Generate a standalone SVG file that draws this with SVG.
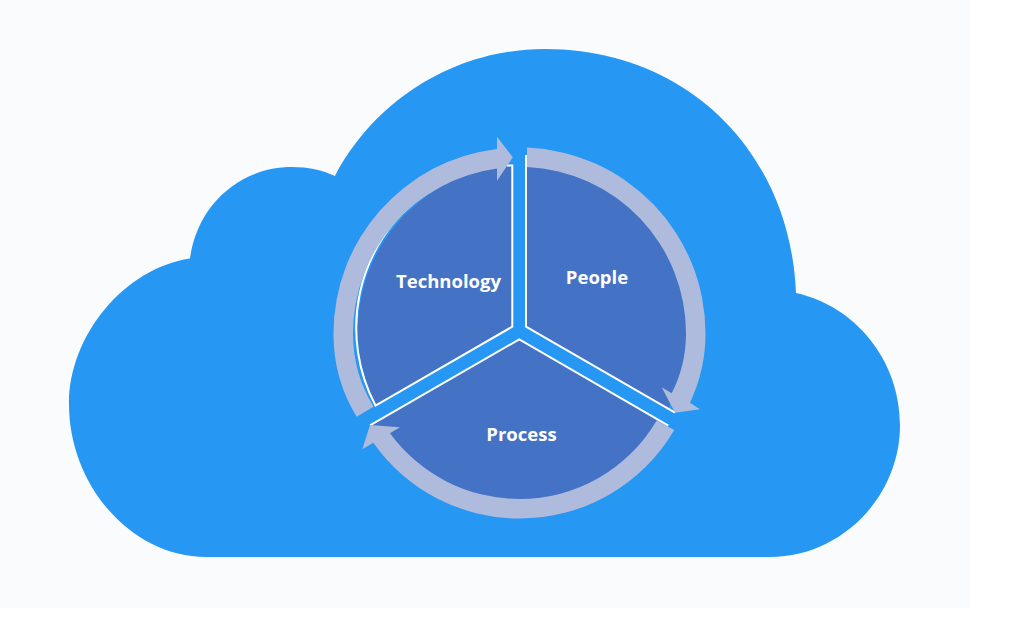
<svg xmlns="http://www.w3.org/2000/svg" width="1012" height="626" viewBox="0 0 1012 626">
<style>
.pie{fill:#4472c4}
.edge{fill:none;stroke:#fff;stroke-width:2}
.ring{fill:#aebbdd}
.lbl{font-family:"Open Sans","Noto Sans",sans-serif;font-weight:700;font-size:18.5px;fill:#fff;text-anchor:middle}
</style>
<rect width="1012" height="626" fill="#fff"/>
<rect width="970" height="608" fill="#f9fbfd"/>
<path id="cloud" fill="#2697f2" d="M206 557C133 557 69 487 69 404C69 335 125 268 190 258.500C197 205 240 167 292 167C308 167 322 170 335 176C375 100 455 49 545 49C685 49 790 150 796 293C855 306 900 360 900 425C900 498 840 557 770 557Z"/>
<g id="technology">
<path class="pie" d="M512.300 165V326.700L376 406A166 166 0 0 1 512.300 165Z"/>
<path class="edge" d="M507 165.500H512.300V326.700L375.500 405.500A166 166 0 0 1 420 197"/>
<text class="lbl" x="448.500" y="288">Technology</text>
</g>
<g id="people">
<path class="pie" d="M526.500 165V326.700L668 408.700A168 168 0 0 0 526.500 165Z"/>
<path class="edge" d="M526 155V326.700L675 412.700"/>
<text class="lbl" x="597" y="284">People</text>
</g>
<g id="process">
<path class="pie" d="M519.300 339.300L668.300 425.700A172 172 0 0 1 370.700 425Z"/>
<path class="edge" d="M370 425.300L519.300 339.300L668.300 425.700"/>
<text class="lbl" x="521.500" y="440.500">Process</text>
</g>
<g id="connectors">
<path class="ring" d="M527 147.600A186 186 0 0 1 705.500 333.500A162 162 0 0 1 690 402.700L700 409.300L675 412.700L661.700 387.300L671.700 393.300A132 132 0 0 0 686 333.500A166.500 166.500 0 0 0 527 167Z"/>
<path class="ring" d="M674.300 430A179 179 0 0 1 519.500 518.500A178.900 178.900 0 0 1 373.300 442.700L362.300 449.300L370 425L400 427.300L390 433.300A160.500 160.500 0 0 0 519.500 499A159 159 0 0 0 656.700 420.500Z"/>
<path class="ring" d="M356.700 416.700A157 157 0 0 1 333.500 333.500A186 186 0 0 1 497 148.900V136.700L512.800 157.300L497 180.700V168.500A166.500 166.500 0 0 0 353 333.500A141 141 0 0 0 373.500 406.800Z"/>
</g>
</svg>
